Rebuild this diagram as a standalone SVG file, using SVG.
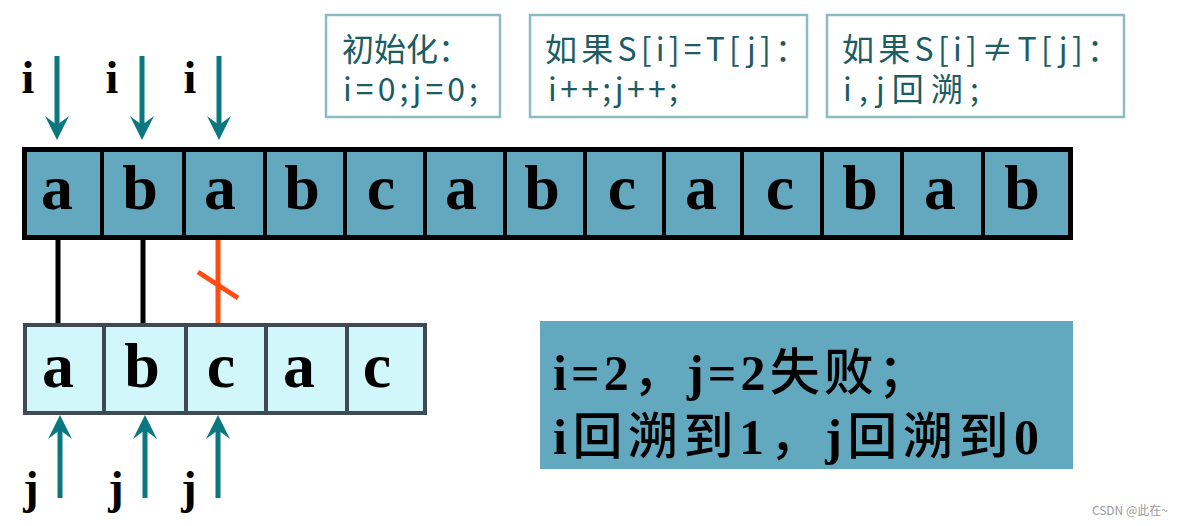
<svg xmlns="http://www.w3.org/2000/svg" width="1184" height="526" viewBox="0 0 1184 526">
<style>
.bg{fill:#ffffff}
.cellS{fill:#63a8bf}
.cellT{fill:#d2f7fb}
.divS{stroke:#000;stroke-width:4}
.divT{stroke:#3f4a55;stroke-width:4}
.let{font-family:"Liberation Serif","Times New Roman",serif;font-weight:bold;font-size:64px;fill:#000;text-anchor:middle}
.ptr{font-family:"Liberation Serif","Times New Roman",serif;font-weight:bold;font-size:46px;fill:#000;text-anchor:middle}
.info{fill:#fff;stroke:#8cbcc0;stroke-width:2.5}
.itxt{font-family:"Noto Sans CJK SC","Noto Sans",sans-serif;font-size:32px;fill:#1c5c63}
.arr{stroke:#0b7880;stroke-width:5;fill:none;marker-end:url(#ah)}
.ok{stroke:#000;stroke-width:5}
.bad{stroke:#ff4d12;stroke-width:5}
.msg{font-family:"Liberation Serif","Times New Roman","Noto Sans CJK SC",serif;font-size:50px;fill:#000;font-weight:bold}
.cjk{font-family:"Noto Sans CJK SC",sans-serif;font-weight:500}
.wm{font-family:"Noto Sans CJK SC","Liberation Sans",sans-serif;font-size:12px;fill:#9a9a9a;text-anchor:end}
</style>
<defs>
<marker id="ah" viewBox="0 0 24 24" refX="9" refY="12" markerWidth="24" markerHeight="24" markerUnits="userSpaceOnUse" orient="auto">
<path d="M0,0 L24,12 L0,24 L9,12 Z" fill="#0b7880"/>
</marker>
</defs>
<rect class="bg" x="0" y="0" width="1184" height="526"/>

<g id="info-init">
<rect class="info" x="326" y="15" width="174" height="102"/>
<text class="itxt"><tspan x="342" y="61">初始化：</tspan><tspan x="343" y="101" textLength="135" lengthAdjust="spacing">i=0;j=0;</tspan></text>
</g>
<g id="info-equal">
<rect class="info" x="530" y="15" width="277" height="102"/>
<text class="itxt"><tspan x="545" y="61" textLength="262" lengthAdjust="spacing">如果S[i]=T[j]：</tspan><tspan x="548" y="101" textLength="130" lengthAdjust="spacing">i++;j++;</tspan></text>
</g>
<g id="info-notequal">
<rect class="info" x="827" y="15" width="297" height="102"/>
<text class="itxt"><tspan x="842" y="61" textLength="277" lengthAdjust="spacing">如果S[i]≠T[j]：</tspan><tspan x="843" y="101" textLength="136" lengthAdjust="spacing">i,j回溯;</tspan></text>
</g>

<g id="main-string">
<rect class="cellS" x="24.5" y="149.5" width="1046" height="88" stroke="#000" stroke-width="5"/>
<line class="divS" x1="102" y1="149" x2="102" y2="238"/>
<line class="divS" x1="184" y1="149" x2="184" y2="238"/>
<line class="divS" x1="265" y1="149" x2="265" y2="238"/>
<line class="divS" x1="345" y1="149" x2="345" y2="238"/>
<line class="divS" x1="425" y1="149" x2="425" y2="238"/>
<line class="divS" x1="505" y1="149" x2="505" y2="238"/>
<line class="divS" x1="585" y1="149" x2="585" y2="238"/>
<line class="divS" x1="664" y1="149" x2="664" y2="238"/>
<line class="divS" x1="742" y1="149" x2="742" y2="238"/>
<line class="divS" x1="822" y1="149" x2="822" y2="238"/>
<line class="divS" x1="902" y1="149" x2="902" y2="238"/>
<line class="divS" x1="983" y1="149" x2="983" y2="238"/>
<text class="let" x="57" y="209">a</text>
<text class="let" x="140" y="209">b</text>
<text class="let" x="220" y="209">a</text>
<text class="let" x="302" y="209">b</text>
<text class="let" x="381" y="209">c</text>
<text class="let" x="461" y="209">a</text>
<text class="let" x="542" y="209">b</text>
<text class="let" x="622" y="209">c</text>
<text class="let" x="701" y="209">a</text>
<text class="let" x="780" y="209">c</text>
<text class="let" x="860" y="209">b</text>
<text class="let" x="940" y="209">a</text>
<text class="let" x="1022" y="209">b</text>
</g>

<g id="pattern-string">
<rect class="cellT" x="25" y="325" width="400" height="88" stroke="#3f4a55" stroke-width="4"/>
<line class="divT" x1="104" y1="325" x2="104" y2="413"/>
<line class="divT" x1="186" y1="325" x2="186" y2="413"/>
<line class="divT" x1="266" y1="325" x2="266" y2="413"/>
<line class="divT" x1="347" y1="325" x2="347" y2="413"/>
<text class="let" x="58" y="387">a</text>
<text class="let" x="142" y="387">b</text>
<text class="let" x="221" y="387">c</text>
<text class="let" x="299" y="387">a</text>
<text class="let" x="377" y="387">c</text>
</g>

<g id="i-labels">
<text class="ptr" x="28" y="93">i</text>
<text class="ptr" x="112" y="93">i</text>
<text class="ptr" x="190" y="93">i</text>
</g>
<g id="j-labels">
<text class="ptr" x="31" y="503">j</text>
<text class="ptr" x="116" y="503">j</text>
<text class="ptr" x="189" y="503">j</text>
</g>

<g id="connectors">
<line class="arr" x1="57" y1="56" x2="57" y2="125"/>
<line class="arr" x1="142" y1="56" x2="142" y2="125"/>
<line class="arr" x1="219" y1="56" x2="219" y2="125"/>
<line class="arr" x1="60" y1="498" x2="60" y2="430"/>
<line class="arr" x1="145" y1="498" x2="145" y2="430"/>
<line class="arr" x1="218" y1="498" x2="218" y2="430"/>
<line class="ok" x1="58" y1="240" x2="58" y2="323"/>
<line class="ok" x1="143" y1="240" x2="143" y2="323"/>
<line class="bad" x1="218" y1="240" x2="218" y2="323"/>
<line class="bad" x1="198" y1="272" x2="238" y2="298"/>
</g>

<g id="result">
<rect x="540" y="321" width="533" height="148" fill="#62a8be"/>
<text class="msg"><tspan x="553" y="390" textLength="375" lengthAdjust="spacing">i=2<tspan class="cjk">，</tspan>j=2<tspan class="cjk">失败；</tspan></tspan><tspan x="553" y="454" textLength="486" lengthAdjust="spacing">i<tspan class="cjk">回溯到</tspan>1<tspan class="cjk">，</tspan>j<tspan class="cjk">回溯到</tspan>0</tspan></text>
</g>

<text class="wm" x="1168" y="515">CSDN @此在~</text>
</svg>
